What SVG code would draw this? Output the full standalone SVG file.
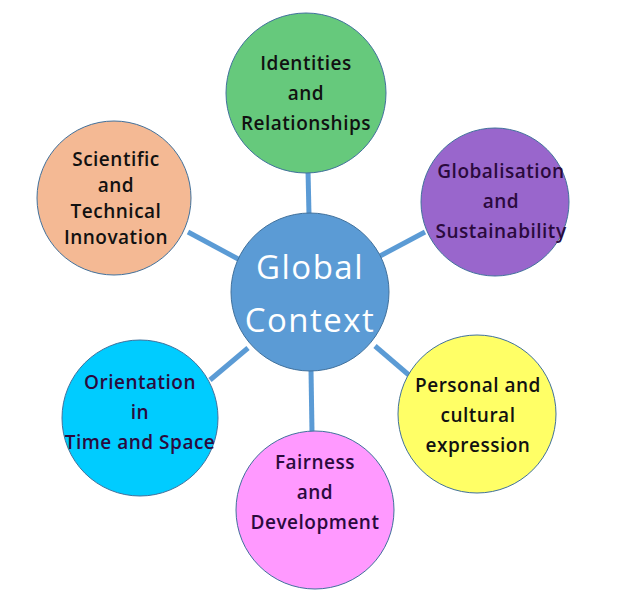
<svg xmlns="http://www.w3.org/2000/svg" width="617" height="604" viewBox="0 0 617 604">
<style>
.n{stroke:#41719c;stroke-width:1}
.t{font-family:"Open Sans","DejaVu Sans",sans-serif;font-weight:600;font-size:19px;letter-spacing:0.5px;text-anchor:middle;fill:#111}
.p{fill:#2b0a3d}
.c line{stroke:#5b9bd5;stroke-width:5}
</style>
<rect width="617" height="604" fill="#fff"/>
<g class="c" id="connectors">
<line x1="308" y1="170" x2="309" y2="215"/>
<line x1="425" y1="232" x2="380" y2="256"/>
<line x1="188" y1="232" x2="240" y2="260"/>
<line x1="210" y1="380" x2="248" y2="348"/>
<line x1="312" y1="432" x2="311" y2="370"/>
<line x1="410" y1="376" x2="375" y2="346"/>
</g>
<g id="identities"><circle class="n" cx="306" cy="93" r="80" fill="#66c97c"/>
<text class="t" x="306" y="70">Identities</text><text class="t" x="306" y="100">and</text><text class="t" x="306" y="130">Relationships</text></g>
<g id="globalisation"><circle class="n" cx="495" cy="202" r="74" fill="#9966cc"/>
<text class="t p" x="501" y="178">Globalisation</text><text class="t p" x="501" y="208">and</text><text class="t p" x="501" y="238">Sustainability</text></g>
<g id="scientific"><circle class="n" cx="114" cy="198" r="77" fill="#f4b994"/>
<text class="t" x="116" y="166">Scientific</text><text class="t" x="116" y="192">and</text><text class="t" x="116" y="218">Technical</text><text class="t" x="116" y="244">Innovation</text></g>
<g id="orientation"><circle class="n" cx="140" cy="418" r="78" fill="#00ccff"/>
<text class="t p" x="140" y="389">Orientation</text><text class="t p" x="140" y="419">in</text><text class="t p" x="140" y="449">Time and Space</text></g>
<g id="fairness"><circle class="n" cx="315" cy="510" r="79" fill="#ff99ff"/>
<text class="t p" x="315" y="469">Fairness</text><text class="t p" x="315" y="499">and</text><text class="t p" x="315" y="529">Development</text></g>
<g id="personal"><circle class="n" cx="477" cy="414" r="79" fill="#ffff66"/>
<text class="t" x="478" y="392">Personal and</text><text class="t" x="478" y="422">cultural</text><text class="t" x="478" y="452">expression</text></g>
<g id="global"><circle class="n" cx="310" cy="292" r="79" fill="#5b9bd5"/>
<text class="t" x="310" y="279" style="font-size:33px;font-weight:400;letter-spacing:1.5px;fill:#fff">Global</text>
<text class="t" x="310" y="332" style="font-size:33px;font-weight:400;letter-spacing:1.5px;fill:#fff">Context</text></g>
</svg>
